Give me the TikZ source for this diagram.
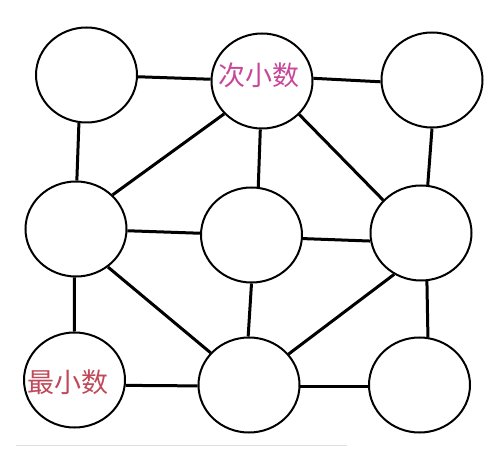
\documentclass[tikz,border=0pt]{standalone}
\usepackage{fontspec}
\newfontfamily\cjk{Noto Sans CJK SC}
\usetikzlibrary{shapes.geometric}
\definecolor{pinkA}{HTML}{C8479A}
\definecolor{redA}{HTML}{C04A5A}
\begin{document}
\begin{tikzpicture}[x=1pt,y=-1pt,
  vtx/.style={ellipse,draw=black,line width=2pt,minimum width=101pt,minimum height=95pt,inner sep=0pt,fill=white},
  edge/.style={line width=3pt,black},
  lbl/.style={font=\cjk\fontsize{27}{27}\selectfont,inner sep=0pt}]
\useasboundingbox (0,0) rectangle (496,468);
\fill[white] (0,0) rectangle (496,468);
\draw[black!12,line width=1pt] (16,445) -- (347,445);
\node[vtx] (tl) at (86.5,75) {};
\node[vtx] (tm) at (262,81) {};
\node[vtx] (tr) at (432,80) {};
\node[vtx] (ml) at (76,229) {};
\node[vtx] (mc) at (251.5,235) {};
\node[vtx] (mr) at (421,233) {};
\node[vtx] (bl) at (74.5,380) {};
\node[vtx] (bm) at (249,385) {};
\node[vtx] (br) at (419.5,385) {};
\draw[edge] (tl) -- (tm);
\draw[edge] (tm.3) -- (tr.182);
\draw[edge] (tl.261) -- (ml.89);
\draw[edge] (tr.270) -- (mr.82);
\draw[edge] (tm.221) -- (ml.43);
\draw[edge] (tm.268) -- (mc.82);
\draw[edge] (tm.318) -- (mr.139);
\draw[edge] (ml) -- (mc);
\draw[edge] (mc.356) -- (mr.189);
\draw[edge] (ml.268) -- (bl.90);
\draw[edge] (ml.310) -- (bm.140);
\draw[edge] (mc.270) -- (bm.91);
\draw[edge] (mr.237) -- (bm.38);
\draw[edge] (mr.277) -- (br.80);
\draw[edge] (bl.354) -- (bm.181);
\draw[edge] (bm.358) -- (br.182);
\node[lbl,text=pinkA] (t1) at (259,75) {次小数};
\node[lbl,text=redA] (t2) at (68,382) {最小数};
\end{tikzpicture}
\end{document}
